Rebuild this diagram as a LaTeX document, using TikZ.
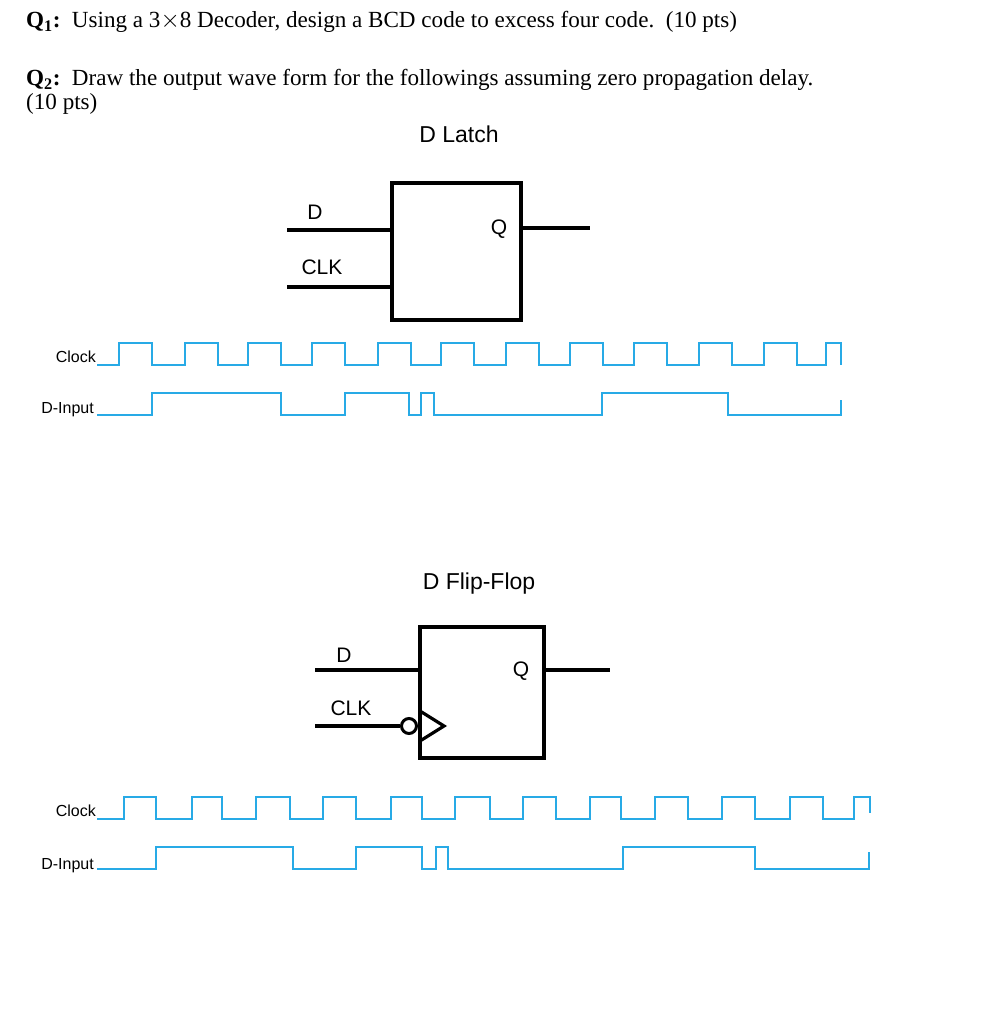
\documentclass[tikz,border=0pt]{standalone}
\usepackage{fontspec}
\setmainfont{Liberation Serif}
\newfontfamily\arial{Liberation Sans}
\definecolor{wave}{RGB}{40,170,230}
\begin{document}
\begin{tikzpicture}[x=1pt,y=-1pt,
  wv/.style={draw=wave,line width=2pt},
  blk/.style={draw=black,line width=3.2pt},
  lab/.style={font=\arial\fontsize{21}{24}\selectfont,inner sep=0pt},
  ttl/.style={font=\arial\fontsize{23}{26}\selectfont,inner sep=0pt},
  sig/.style={font=\arial\fontsize{16}{18}\selectfont,inner sep=0pt,anchor=east},
  q/.style={font=\fontsize{23.1}{26}\selectfont,inner sep=0pt,anchor=west}]
\useasboundingbox (0,0) rectangle (1001,1024);
\node[q] (q1) at (26,22) {\textbf{Q\textsubscript{1}:}\ \ Using a 3$\times$8 Decoder, design a BCD code to excess four code.\ \ (10 pts)};
\node[q] (q2) at (26,80) {\textbf{Q\textsubscript{2}:}\ \ Draw the output wave form for the followings assuming zero propagation delay.};
\node[q] (q2b) at (26,104) {(10 pts)};
% D latch
\node[ttl] (t1) at (459,134) {D Latch};
\node[blk,minimum width=129pt,minimum height=137pt,inner sep=0pt] (L) at (456.5,251.5) {};
\coordinate (ld) at (287,230); \coordinate (lc) at (287,287); \coordinate (lq) at (590,228);
\draw[blk] (ld) -- (ld -| L.west);
\draw[blk] (lc) -- (lc -| L.west);
\draw[blk] (lq -| L.east) -- (lq);
\node[lab] (lD) at (315,212) {D};
\node[lab] (lCLK) at (322,267) {CLK};
\node[lab] (lQ) at (499,229) {Q};
% D flip-flop
\node[ttl] (t2) at (479,584) {D Flip-Flop};
\node[blk,minimum width=124pt,minimum height=131pt,inner sep=0pt] (F) at (482,692.5) {};
\coordinate (fd) at (315,670); \coordinate (fc) at (315,726); \coordinate (fq) at (610,670);
\draw[blk] (fd) -- (fd -| F.west);
\node[blk,circle,minimum size=15pt,inner sep=0pt,line width=3pt] (bub) at (409,726) {};
\draw[blk] (fc) -- (bub.west);
\draw[blk,line join=miter] (420,711) -- (444,726) -- (420,741);
\draw[blk] (fq -| F.east) -- (fq);
\node[lab] (fD) at (344,655) {D};
\node[lab] (fCLK) at (351,708) {CLK};
\node[lab] (fQ) at (521,671) {Q};
% top waves
\node[sig] (c1) at (96,357) {Clock};
\node[sig] (d1) at (94,410) {D-Input};
\draw[wv] (97,365)
 foreach \r in {119,185,248,312,378,441,506,570,634,699,764}{ -- (\r,365) -- (\r,343) -- (\r+33,343) -- (\r+33,365)}
 -- (826,365) -- (826,343) -- (841,343) -- (841,365);
\draw[wv] (97,415) -- (152,415) -- (152,393) -- (281,393) -- (281,415) -- (345,415) -- (345,393) -- (409,393) -- (409,415) -- (421,415) -- (421,393) -- (434,393) -- (434,415) -- (602,415) -- (602,393) -- (728,393) -- (728,415) -- (841,415) -- (841,400);
% bottom waves
\node[sig] (c2) at (96,811) {Clock};
\node[sig] (d2) at (94,866) {D-Input};
\draw[wv] (97,819)
 foreach \r/\f in {124/156,192/222,256/290,323/356,391/422,455/490,523/556,590/621,655/688,722/755,790/823}{ -- (\r,819) -- (\r,797) -- (\f,797) -- (\f,819)}
 -- (854,819) -- (854,797) -- (870,797) -- (870,813);
\draw[wv] (97,869) -- (156,869) -- (156,847) -- (293,847) -- (293,869) -- (356,869) -- (356,847) -- (422,847) -- (422,869) -- (436,869) -- (436,847) -- (448,847) -- (448,869) -- (623,869) -- (623,847) -- (755,847) -- (755,869) -- (869,869) -- (869,852);
\end{tikzpicture}
\end{document}
